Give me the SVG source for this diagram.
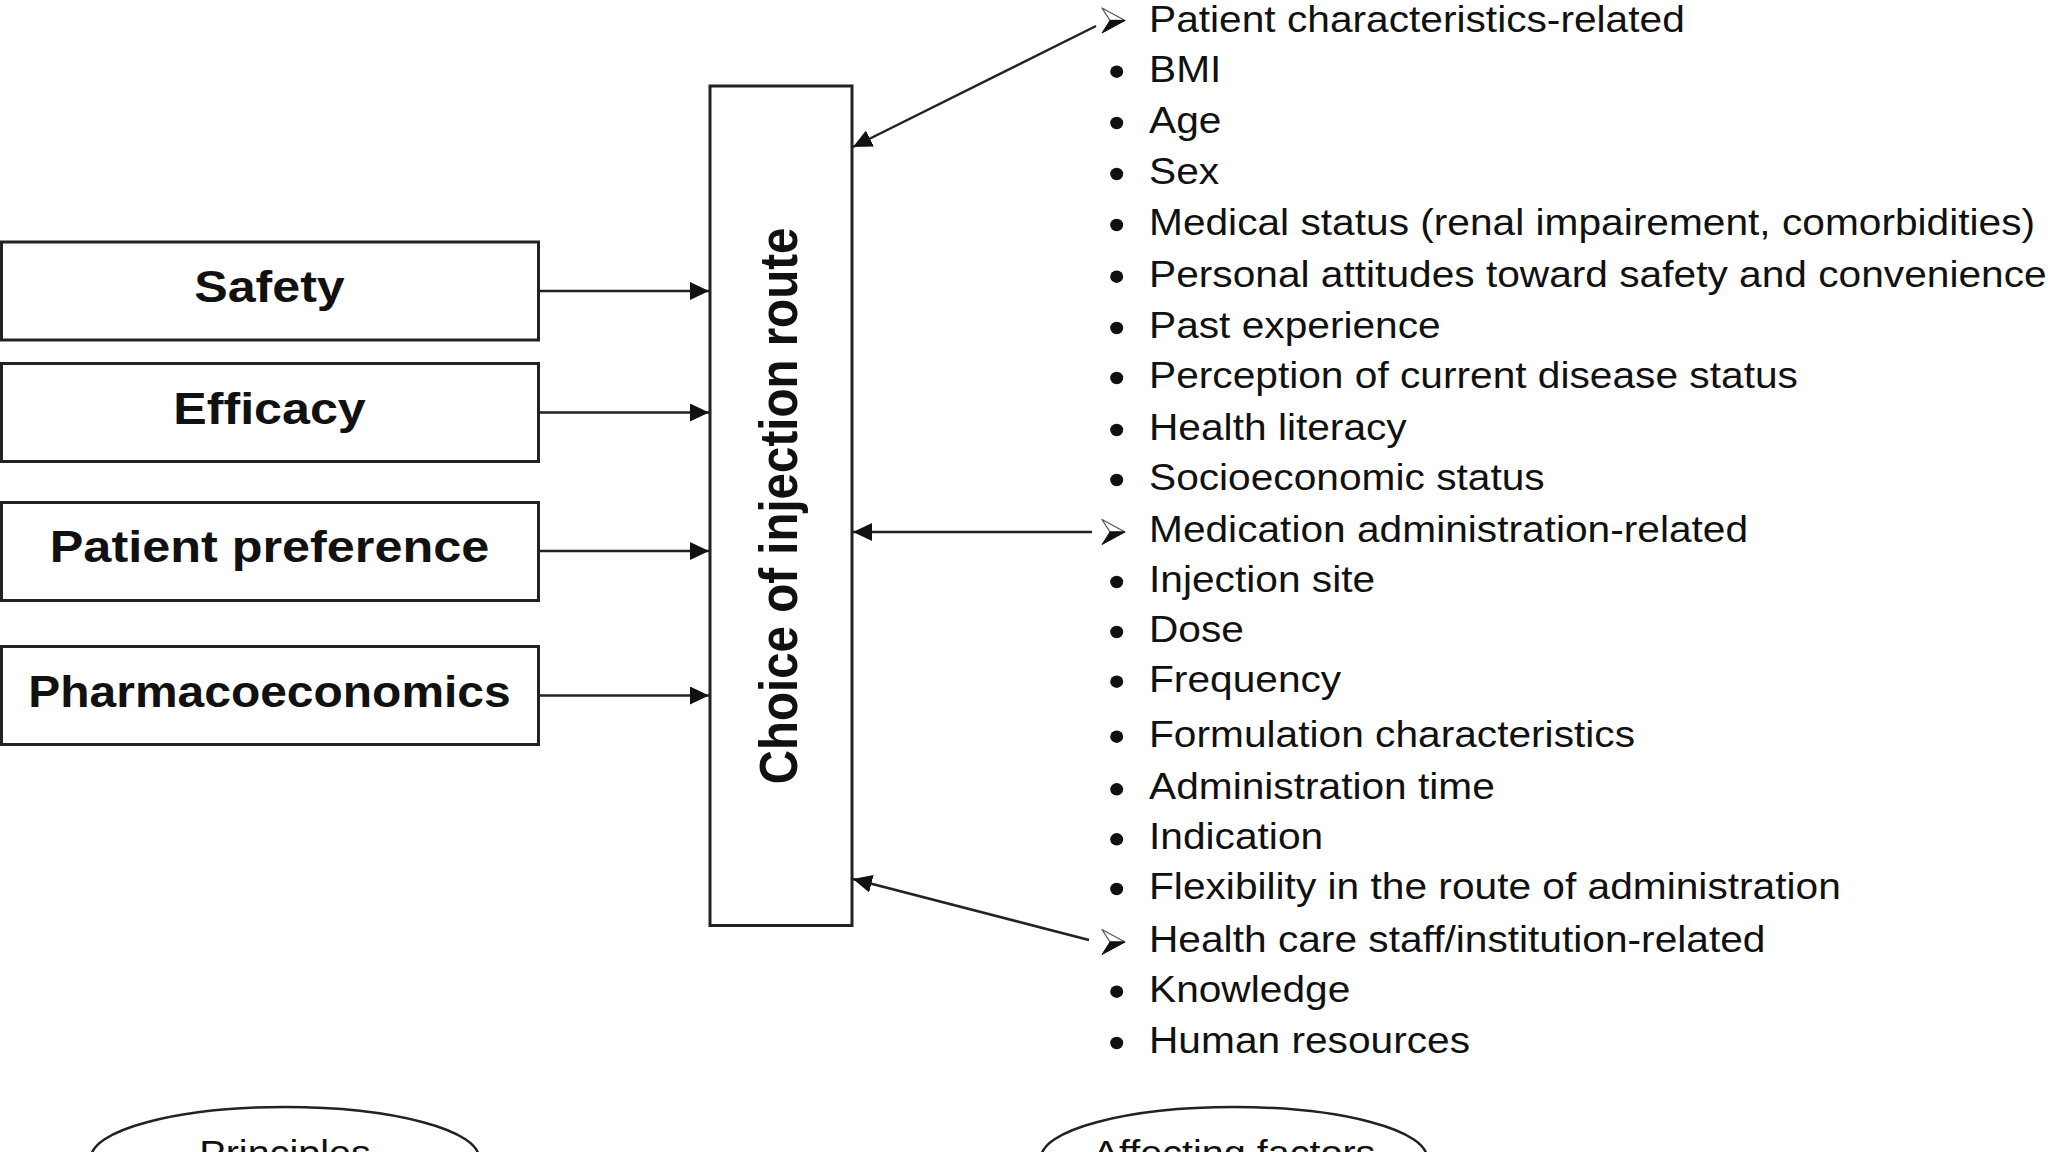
<svg xmlns="http://www.w3.org/2000/svg" width="2048" height="1152" viewBox="0 0 2048 1152">
  <style>
    .box { fill: #ffffff; stroke: #222222; stroke-width: 3; }
    .lbl { font-family: "Liberation Sans", Arial, sans-serif; font-weight: bold; font-size: 44px; fill: #111111; text-anchor: middle; }
    .ctr { font-family: "Liberation Sans", Arial, sans-serif; font-weight: bold; font-size: 47.5px; fill: #111111; text-anchor: middle; }
    .item { font-family: "Liberation Sans", Arial, sans-serif; font-size: 36px; fill: #111111; }
    .oval { fill: #ffffff; stroke: #222222; stroke-width: 2.5; }
    .cap { font-family: "Liberation Sans", Arial, sans-serif; font-size: 35px; fill: #111111; text-anchor: middle; }
    .conn { stroke: #222222; stroke-width: 2.5; fill: none; marker-end: url(#ah); }
    .dot { fill: #111111; }
  </style>
  <defs>
    <marker id="ah" viewBox="0 0 19 18" refX="19" refY="9" markerWidth="19" markerHeight="18" markerUnits="userSpaceOnUse" orient="auto">
      <path d="M0,0 L19,9 L0,18 z" fill="#111111"/>
    </marker>
    <g id="hd">
      <polygon points="-11.5,-12.5 11.5,0 -3.5,0" fill="#ffffff" stroke="#555555" stroke-width="1.3" stroke-linejoin="round"/>
      <polygon points="-3.5,0 11.5,0 -11.5,12.5" fill="#111111" stroke="#111111" stroke-width="1" stroke-linejoin="round"/>
    </g>
  </defs>

  <g id="node-safety">
    <rect class="box" x="1.5" y="242" width="537" height="98"/>
    <text class="lbl" transform="translate(269.5,302) scale(1.14,1)">Safety</text>
  </g>
  <g id="node-efficacy">
    <rect class="box" x="1.5" y="363.5" width="537" height="98"/>
    <text class="lbl" transform="translate(269.5,423.5) scale(1.14,1)">Efficacy</text>
  </g>
  <g id="node-preference">
    <rect class="box" x="1.5" y="502.5" width="537" height="98"/>
    <text class="lbl" transform="translate(269.5,562) scale(1.145,1)">Patient preference</text>
  </g>
  <g id="node-pharmaco">
    <rect class="box" x="1.5" y="646.5" width="537" height="98"/>
    <text class="lbl" transform="translate(269.5,707) scale(1.09,1)">Pharmacoeconomics</text>
  </g>

  <g id="node-choice">
    <rect class="box" x="710" y="86" width="142" height="839.5"/>
    <text class="ctr" transform="translate(796.5,506) scale(1.13,1) rotate(-90)">Choice of injection route</text>
  </g>

  <g id="connectors">
    <line class="conn" x1="538.5" y1="291" x2="709" y2="291"/>
    <line class="conn" x1="538.5" y1="412.5" x2="709" y2="412.5"/>
    <line class="conn" x1="538.5" y1="551" x2="709" y2="551"/>
    <line class="conn" x1="538.5" y1="695.5" x2="709" y2="695.5"/>
    <line class="conn" x1="1096" y1="26" x2="853" y2="147"/>
    <line class="conn" x1="1092" y1="532" x2="853" y2="532"/>
    <line class="conn" x1="1089" y1="940" x2="853" y2="879"/>
  </g>

  <g id="node-factors">
    <use href="#hd" x="1113.5" y="20.5"/>
    <use href="#hd" x="1113.5" y="532"/>
    <use href="#hd" x="1113.5" y="942"/>
    <ellipse class="dot" cx="1116.7" cy="71.7" rx="6.5" ry="6.2"/>
    <ellipse class="dot" cx="1116.7" cy="123" rx="6.5" ry="6.2"/>
    <ellipse class="dot" cx="1116.7" cy="174" rx="6.5" ry="6.2"/>
    <ellipse class="dot" cx="1116.7" cy="225" rx="6.5" ry="6.2"/>
    <ellipse class="dot" cx="1116.7" cy="276.7" rx="6.5" ry="6.2"/>
    <ellipse class="dot" cx="1116.7" cy="328" rx="6.5" ry="6.2"/>
    <ellipse class="dot" cx="1116.7" cy="378" rx="6.5" ry="6.2"/>
    <ellipse class="dot" cx="1116.7" cy="430" rx="6.5" ry="6.2"/>
    <ellipse class="dot" cx="1116.7" cy="480" rx="6.5" ry="6.2"/>
    <ellipse class="dot" cx="1116.7" cy="582" rx="6.5" ry="6.2"/>
    <ellipse class="dot" cx="1116.7" cy="632" rx="6.5" ry="6.2"/>
    <ellipse class="dot" cx="1116.7" cy="681.7" rx="6.5" ry="6.2"/>
    <ellipse class="dot" cx="1116.7" cy="736.7" rx="6.5" ry="6.2"/>
    <ellipse class="dot" cx="1116.7" cy="789.3" rx="6.5" ry="6.2"/>
    <ellipse class="dot" cx="1116.7" cy="839.3" rx="6.5" ry="6.2"/>
    <ellipse class="dot" cx="1116.7" cy="889" rx="6.5" ry="6.2"/>
    <ellipse class="dot" cx="1116.7" cy="991.7" rx="6.5" ry="6.2"/>
    <ellipse class="dot" cx="1116.7" cy="1043" rx="6.5" ry="6.2"/>
    <g transform="translate(1149,0) scale(1.13,1)">
      <text class="item" x="0" y="31.7">Patient characteristics-related</text>
      <text class="item" x="0" y="81.7">BMI</text>
      <text class="item" x="0" y="133">Age</text>
      <text class="item" x="0" y="184">Sex</text>
      <text class="item" x="0" y="235">Medical status (renal impairement, comorbidities)</text>
      <text class="item" x="0" y="286.7">Personal attitudes toward safety and convenience</text>
      <text class="item" x="0" y="338">Past experience</text>
      <text class="item" x="0" y="388">Perception of current disease status</text>
      <text class="item" x="0" y="440">Health literacy</text>
      <text class="item" x="0" y="490">Socioeconomic status</text>
      <text class="item" x="0" y="542">Medication administration-related</text>
      <text class="item" x="0" y="592">Injection site</text>
      <text class="item" x="0" y="642">Dose</text>
      <text class="item" x="0" y="691.7">Frequency</text>
      <text class="item" x="0" y="746.7">Formulation characteristics</text>
      <text class="item" x="0" y="799.3">Administration time</text>
      <text class="item" x="0" y="849.3">Indication</text>
      <text class="item" x="0" y="899">Flexibility in the route of administration</text>
      <text class="item" x="0" y="951.7">Health care staff/institution-related</text>
      <text class="item" x="0" y="1001.7">Knowledge</text>
      <text class="item" x="0" y="1053">Human resources</text>
    </g>
  </g>

  <g id="node-principles">
    <ellipse class="oval" cx="285" cy="1158" rx="194" ry="51"/>
    <text class="cap" transform="translate(285,1165) scale(1.13,1)">Principles</text>
  </g>
  <g id="node-affecting">
    <ellipse class="oval" cx="1234" cy="1158" rx="193" ry="51"/>
    <text class="cap" transform="translate(1234,1165) scale(1.13,1)">Affecting factors</text>
  </g>
</svg>
